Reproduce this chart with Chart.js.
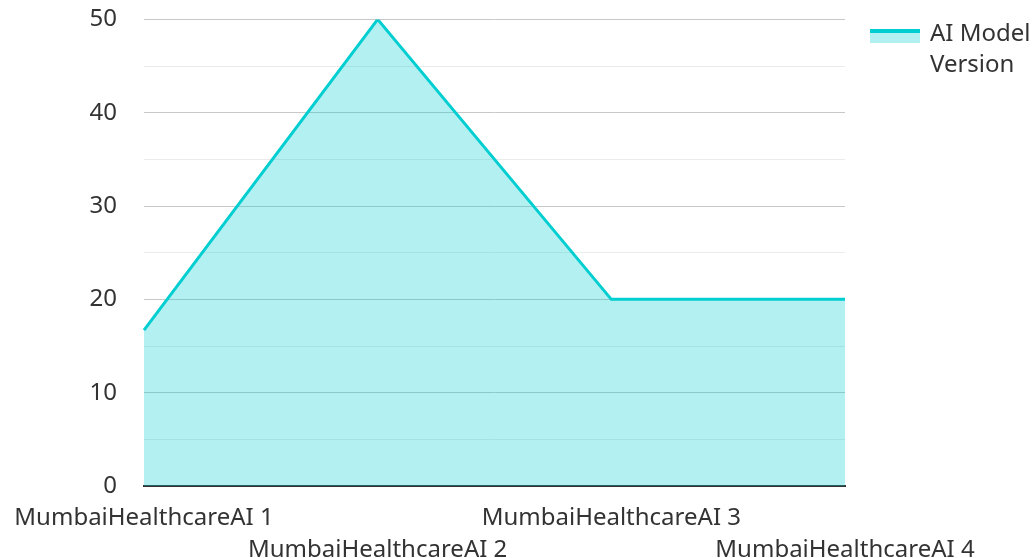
<!DOCTYPE html>
<html>
<head>
<meta charset="utf-8">
<script src="https://cdn.jsdelivr.net/npm/chart.js@4/dist/chart.umd.min.js"></script>
<style>
    html, body { margin: 0; padding: 0; background: #fff; }
    #wrap { position: relative; width: 1035px; height: 558px; overflow: hidden; }
    #chart { position: absolute; left: 0; top: -22px; }
    #legend {
        position: absolute; left: 870px; top: 16px;
        font-family: "Noto Sans", sans-serif; font-size: 24px; line-height: 31px; color: #333;
    }
    #legend .swatch {
        position: absolute; left: 0; top: 13px; width: 50px; height: 14px;
        background: rgba(0, 206, 209, 0.3); border-top: 4px solid #00CED1; box-sizing: border-box;
    }
    #legend .text { margin-left: 60px; }
</style>
</head>
<body>
<div id="wrap">
    <canvas id="chart" width="1035" height="580"></canvas>
    <div id="legend"><div class="swatch"></div><div class="text">AI Model<br>Version</div></div>
</div>
<script>
// Chart data
const categories = ['MumbaiHealthcareAI 1', 'MumbaiHealthcareAI 2', 'MumbaiHealthcareAI 3', 'MumbaiHealthcareAI 4'];
const seriesName = 'AI Model Version';
const seriesValues = [16.7, 50, 20, 20];
const yTicks = [0, 10, 20, 30, 40, 50];

// Stagger the x labels on two rows
const xLabels = categories.map((c, i) => i % 2 === 0 ? c : ['', c]);

const ctx = document.getElementById('chart');
new Chart(ctx, {
    type: 'line',
    data: {
        labels: xLabels,
        datasets: [{
            label: seriesName,
            data: seriesValues,
            borderColor: '#00CED1',
            backgroundColor: 'rgba(0, 206, 209, 0.3)',
            borderWidth: 3,
            fill: 'origin',
            tension: 0,
            pointRadius: 0
        }]
    },
    options: {
        responsive: false,
        animation: false,
        layout: {
            padding: { top: 0, right: 190, left: 0, bottom: 0 }
        },
        plugins: {
            legend: { display: false },
            tooltip: { enabled: false }
        },
        scales: {
            x: {
                offset: false,
                grid: { display: false },
                border: { display: true, color: '#333', width: 2 },
                ticks: {
                    autoSkip: false,
                    maxRotation: 0,
                    minRotation: 0,
                    padding: 8,
                    color: '#333',
                    font: { family: 'Noto Sans', size: 24, lineHeight: 1.35 }
                },
                afterFit: function(scale) { scale.height = 72; }
            },
            y: {
                min: 0,
                max: 50,
                border: { display: false },
                grid: {
                    color: function(c) {
                        return c.tick && c.tick.value % 10 === 0 ? '#c8c8c8' : '#ebebeb';
                    },
                    lineWidth: 1,
                    drawTicks: false
                },
                ticks: {
                    stepSize: 5,
                    padding: 27,
                    color: '#333',
                    font: { family: 'Noto Sans', size: 24 },
                    callback: function(value) {
                        return yTicks.includes(value) ? value : '';
                    }
                },
                afterFit: function(scale) { scale.width = 144; }
            }
        }
    }
});
</script>
</body>
</html>
